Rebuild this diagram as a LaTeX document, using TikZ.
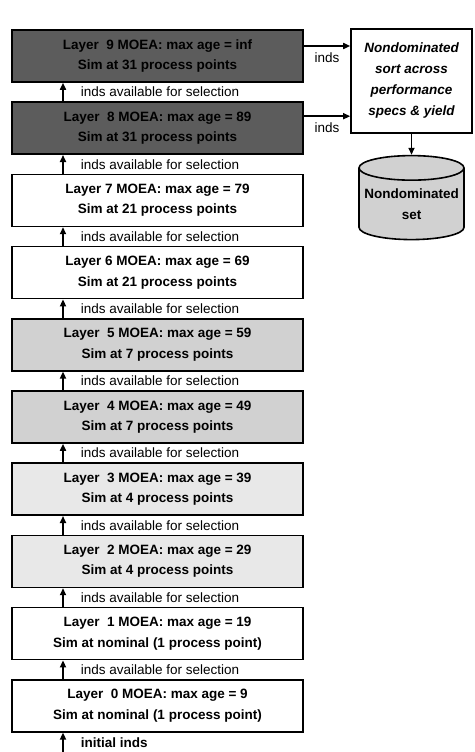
\documentclass[tikz,border=0pt]{standalone}
\usepackage{fontspec}
\setmainfont{Liberation Sans}
\usetikzlibrary{positioning,shapes.geometric,arrows.meta}

\definecolor{darkfill}{gray}{0.36}
\definecolor{midfill}{gray}{0.82}
\definecolor{lightfill}{gray}{0.91}

\begin{document}
\begin{tikzpicture}[x=1pt, y=1pt, node distance=18.6pt and 1cm, every node/.style={scale=1.0},
  >={Triangle[length=7pt,width=6pt]},
  layer/.style={rectangle, draw, line width=1.6pt, minimum width=291pt, minimum height=52pt,
    inner sep=0pt, align=center, font=\bfseries\fontsize{13.5}{20.5}\selectfont},
  sel/.style={inner sep=0pt, font=\fontsize{13.5}{15}\selectfont},
  link/.style={->, line width=1.6pt}]
  \useasboundingbox (0,0) rectangle (474,-752);
  \coordinate (ax) at (63,0);

  \node[layer,fill=darkfill] (l9) at (157.5,-56) {Layer\ \ 9 MOEA: max age = inf\\Sim at 31 process points};
  \node[layer,fill=darkfill] (l8) [below=of l9] {Layer\ \ 8 MOEA: max age = 89\\Sim at 31 process points};
  \node[layer] (l7) [below=of l8] {Layer 7 MOEA: max age = 79\\Sim at 21 process points};
  \node[layer] (l6) [below=of l7] {Layer 6 MOEA: max age = 69\\Sim at 21 process points};
  \node[layer,fill=midfill] (l5) [below=of l6] {Layer\ \ 5 MOEA: max age = 59\\Sim at 7 process points};
  \node[layer,fill=midfill] (l4) [below=of l5] {Layer\ \ 4 MOEA: max age = 49\\Sim at 7 process points};
  \node[layer,fill=lightfill] (l3) [below=of l4] {Layer\ \ 3 MOEA: max age = 39\\Sim at 4 process points};
  \node[layer,fill=lightfill] (l2) [below=of l3] {Layer\ \ 2 MOEA: max age = 29\\Sim at 4 process points};
  \node[layer] (l1) [below=of l2] {Layer\ \ 1 MOEA: max age = 19\\Sim at nominal (1 process point)};
  \node[layer] (l0) [below=of l1] {Layer\ \ 0 MOEA: max age = 9\\Sim at nominal (1 process point)};
  \coordinate (start) at (63,-752);

  \node[rectangle,draw,line width=1.6pt,minimum width=121pt,minimum height=104pt,inner sep=0pt,
    align=center,font=\bfseries\itshape\fontsize{13.5}{21}\selectfont] (sort) at (411.5,-81)
    {Nondominated\\sort across\\performance\\specs \& yield};
  \node[cylinder,shape border rotate=90,aspect=0.26,draw,line width=1.6pt,fill=midfill,
    minimum width=105pt,minimum height=84pt,inner sep=0pt,align=center,
    font=\bfseries\fontsize{13.5}{21}\selectfont] (nset) [below=21pt of sort]
    {Nondominated\\set};

  \draw[link] (l8.north -| ax) -- node[sel,right=17pt] (t8) {inds available for selection} (l9.south -| ax);
  \draw[link] (l7.north -| ax) -- node[sel,right=17pt] (t7) {inds available for selection} (l8.south -| ax);
  \draw[link] (l6.north -| ax) -- node[sel,right=17pt] (t6) {inds available for selection} (l7.south -| ax);
  \draw[link] (l5.north -| ax) -- node[sel,right=17pt] (t5) {inds available for selection} (l6.south -| ax);
  \draw[link] (l4.north -| ax) -- node[sel,right=17pt] (t4) {inds available for selection} (l5.south -| ax);
  \draw[link] (l3.north -| ax) -- node[sel,right=17pt] (t3) {inds available for selection} (l4.south -| ax);
  \draw[link] (l2.north -| ax) -- node[sel,right=17pt] (t2) {inds available for selection} (l3.south -| ax);
  \draw[link] (l1.north -| ax) -- node[sel,right=17pt] (t1) {inds available for selection} (l2.south -| ax);
  \draw[link] (l0.north -| ax) -- node[sel,right=17pt] (t0) {inds available for selection} (l1.south -| ax);
  \draw[link] (start) -- node[sel,right=17pt,font=\bfseries\fontsize{13.5}{15}\selectfont] (tin) {initial inds} (l0.south -| ax);

  \draw[link] ([yshift=10pt]l9.east) -- node[sel,below=6pt] (i9) {inds} ([yshift=10pt]l9.east -| sort.west);
  \draw[link] ([yshift=12pt]l8.east) -- node[sel,below=6pt] (i8) {inds} ([yshift=12pt]l8.east -| sort.west);
  \draw[link] (sort.south) -- (nset.north);
\end{tikzpicture}
\end{document}
